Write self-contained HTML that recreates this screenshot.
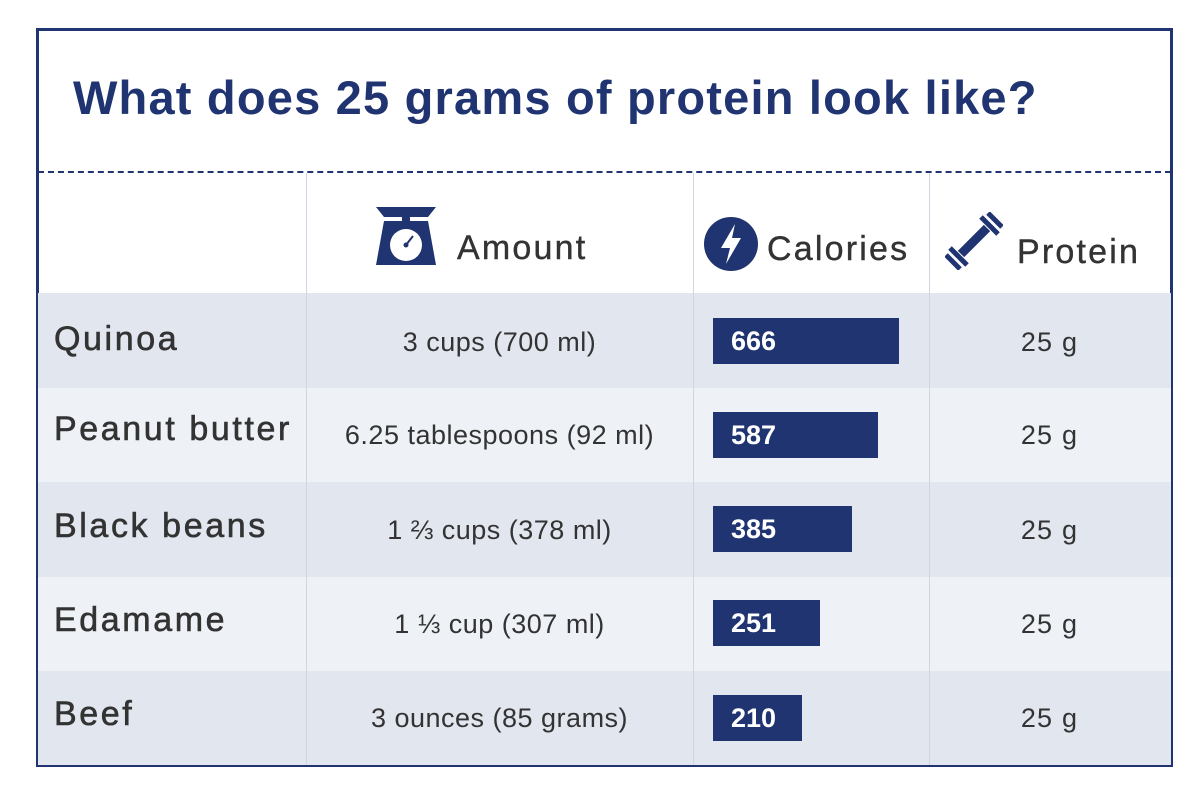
<!DOCTYPE html>
<html><head><meta charset="utf-8"><style>
*{margin:0;padding:0;box-sizing:border-box}
body{width:1199px;height:798px;background:#fff;position:relative;font-family:"Liberation Sans",sans-serif;overflow:hidden}
.box{position:absolute;left:36px;top:28px;width:1137px;height:739px;border:3px solid #1f3470}
.title{position:absolute;left:73px;top:70px;font-size:47px;font-weight:bold;color:#1f3470;letter-spacing:1.2px}
.dash{position:absolute;left:38px;top:171px;width:1133px;border-top:2px dashed #1f3470}
.row{position:absolute;left:38px;width:1133px}
.vl{position:absolute;top:173px;height:592px;width:1px;background:#cfd6e2}
.lab{position:absolute;left:54px;font-size:34px;color:#333;letter-spacing:2.6px;-webkit-text-stroke:0.6px #333}
.amt{position:absolute;left:306px;width:387px;text-align:center;font-size:27px;color:#333;letter-spacing:0.5px}
.pro{position:absolute;left:929px;width:241px;text-align:center;font-size:27px;color:#333;letter-spacing:1.2px}
.bar{position:absolute;left:713px;height:46px;background:#1f3470;color:#fff;font-size:27px;font-weight:bold;padding-left:18px;line-height:46px}
.hd{position:absolute;font-size:34px;color:#333;letter-spacing:2.2px;-webkit-text-stroke:0.4px #333}
</style></head><body>
<div class="box"></div>
<div class="title">What does 25 grams of protein look like?</div>
<div class="dash"></div>
<div class="row" style="top:293px;height:95px;background:#e1e6ef"></div>
<div class="row" style="top:388px;height:94px;background:#eef2f7"></div>
<div class="row" style="top:482px;height:95px;background:#e1e6ef"></div>
<div class="row" style="top:577px;height:94px;background:#eef2f7"></div>
<div class="row" style="top:671px;height:94px;background:#e1e6ef"></div>
<div class="vl" style="left:306px"></div><div class="vl" style="left:693px"></div><div class="vl" style="left:929px"></div>
<svg style="position:absolute;left:374px;top:205px" width="64" height="64" viewBox="0 0 64 64">
<path d="M2 2h60l-8 10H10z" fill="#1f3470"/><rect x="28" y="11" width="8" height="6" fill="#1f3470"/>
<path d="M10 16h44l8 44H2z" fill="#1f3470"/><circle cx="32" cy="40" r="16" fill="#fff"/>
<line x1="32" y1="40" x2="39" y2="31" stroke="#1f3470" stroke-width="2"/><circle cx="32" cy="40" r="2.5" fill="#1f3470"/></svg>
<div class="hd" style="left:457px;top:229px">Amount</div>
<svg style="position:absolute;left:703px;top:216px" width="56" height="56" viewBox="0 0 56 56">
<ellipse cx="28" cy="28" rx="27" ry="27" fill="#1f3470"/><path d="M32 8L18 32h9l-4 16 15-26h-9z" fill="#fff"/></svg>
<div class="hd" style="left:767px;top:230px">Calories</div>
<svg style="position:absolute;left:945px;top:212px" width="58" height="58" viewBox="0 0 58 58">
<g stroke="#1f3470" stroke-linecap="butt"><line x1="16" y1="42" x2="42" y2="16" stroke-width="9"/>
<line x1="5" y1="36" x2="22" y2="53" stroke-width="5"/><line x1="1" y1="43" x2="15" y2="57" stroke-width="5"/>
<line x1="36" y1="5" x2="53" y2="22" stroke-width="5"/><line x1="43" y1="1" x2="57" y2="15" stroke-width="5"/></g></svg>
<div class="hd" style="left:1017px;top:233px">Protein</div>

<div class="lab" style="top:320px">Quinoa</div>
<div class="lab" style="top:410px">Peanut butter</div>
<div class="lab" style="top:507px">Black beans</div>
<div class="lab" style="top:601px">Edamame</div>
<div class="lab" style="top:695px">Beef</div>

<div class="amt" style="top:327px">3 cups (700 ml)</div>
<div class="amt" style="top:420px">6.25 tablespoons (92 ml)</div>
<div class="amt" style="top:515px">1 ⅔ cups (378 ml)</div>
<div class="amt" style="top:609px">1 ⅓ cup (307 ml)</div>
<div class="amt" style="top:703px">3 ounces (85 grams)</div>

<div class="bar" style="top:318px;width:186px">666</div>
<div class="bar" style="top:412px;width:165px">587</div>
<div class="bar" style="top:506px;width:139px">385</div>
<div class="bar" style="top:600px;width:107px">251</div>
<div class="bar" style="top:695px;width:89px">210</div>

<div class="pro" style="top:327px">25 g</div>
<div class="pro" style="top:420px">25 g</div>
<div class="pro" style="top:515px">25 g</div>
<div class="pro" style="top:609px">25 g</div>
<div class="pro" style="top:703px">25 g</div>
</body></html>
